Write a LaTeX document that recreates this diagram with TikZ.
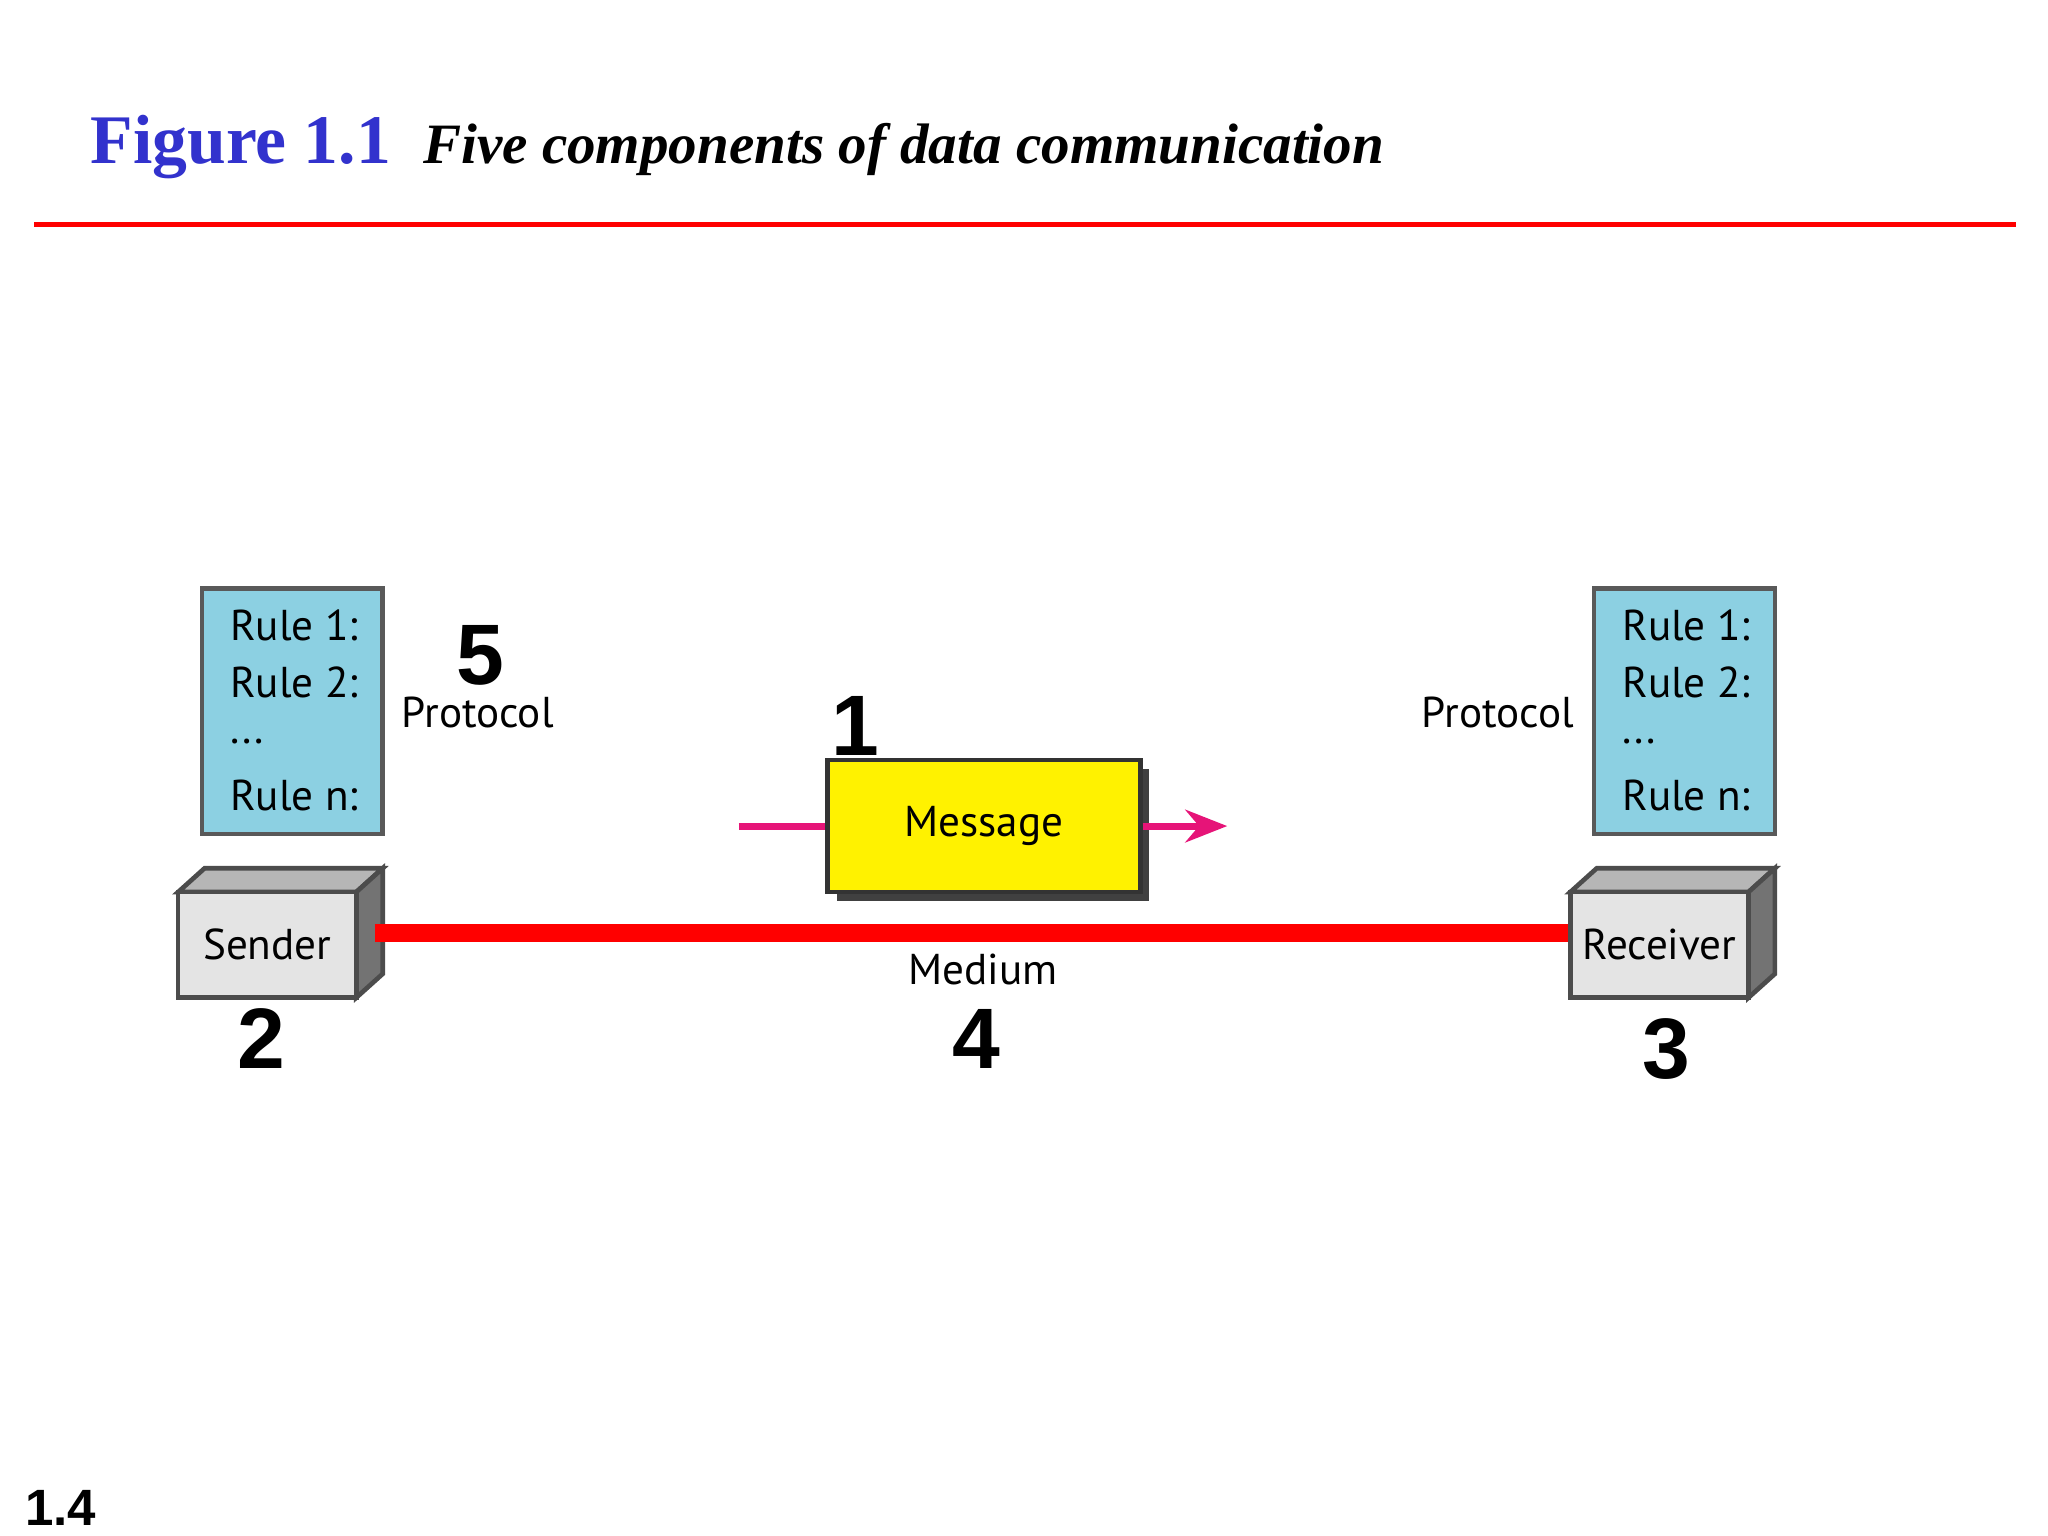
\documentclass[tikz,border=0pt]{standalone}
\usepackage{fontspec}
\setmainfont{Liberation Serif}
\newfontfamily\labelfont{PT Sans}
\newfontfamily\numfont{Liberation Sans}
\usetikzlibrary{arrows.meta}
\definecolor{titleblue}{RGB}{50,50,205}
\definecolor{rulebox}{RGB}{140,208,226}
\definecolor{devgray}{RGB}{228,228,228}
\definecolor{msgpink}{RGB}{230,20,120}
\tikzset{
  rules/.style={draw=gray!70!black, fill=rulebox, line width=1pt},
  lbl/.style={font=\labelfont\fontsize{9.3}{11}\selectfont},
  num/.style={font=\numfont\bfseries\fontsize{18.5}{18.5}\selectfont},
  dev/.style={draw=black!70, fill=devgray, line width=1pt}
}
\begin{document}
\begin{tikzpicture}[x=0.01cm, y=-0.01cm]
    \useasboundingbox[fill=white] (0,0) rectangle (1552,1164);

    % title
    \node[anchor=base west, inner sep=0pt, text=titleblue, font=\bfseries\fontsize{15}{15}\selectfont] (fig) at (68,124) {Figure 1.1};
    \node[anchor=base west, inner sep=0pt, font=\bfseries\itshape\fontsize{12.3}{12.3}\selectfont] (cap) at (320,124) {Five components of data communication};
    \draw[red, line width=1.2pt] (26,170) -- (1528,170);

    % protocol boxes
    \draw[rules] (153,446) rectangle (290,632);
    \draw[rules] (1208,446) rectangle (1345,632);
    \foreach \x in {174,1229} {
      \node[lbl, anchor=west, inner sep=0pt] at (\x,474) {Rule 1:};
      \node[lbl, anchor=west, inner sep=0pt] at (\x,517) {Rule 2:};
      \node[lbl, anchor=west, inner sep=0pt] at (\x,562) {...};
      \node[lbl, anchor=west, inner sep=0pt] at (\x,603) {Rule n:};
    }
    \node[lbl] (protl) at (362,540) {Protocol};
    \node[lbl] (protr) at (1135,540) {Protocol};

    % message
    \fill[black!75] (634,583) rectangle (871,683);
    \node[draw=black!80, fill=yellow, line width=1pt, minimum width=2.37cm, minimum height=1cm, inner sep=0pt, lbl] (msg) at (745.5,626) {Message};
    \coordinate (in) at (560,626);
    \coordinate (out) at (930,626);
    \draw[msgpink, line width=1.5pt] (in) -- (msg.west);
    \draw[msgpink, line width=1.5pt, -{Stealth[length=9pt,width=7pt]}] (msg.east) -- (out);

    % devices
    \foreach \x/\nm in {135/send, 1190/recv} {
      \draw[dev, fill=devgray!80!black] (\x,676) -- (\x+20,658) -- (\x+155,658) -- (\x+135,676) -- cycle;
      \draw[dev, fill=black!55] (\x+135,676) -- (\x+155,658) -- (\x+155,738) -- (\x+135,756) -- cycle;
      \node[dev, minimum width=1.35cm, minimum height=0.8cm, inner sep=0pt, lbl] (\nm) at (\x+67.5,716) {};
    }
    \node[lbl] at (send) {Sender};
    \node[lbl] at (recv) {Receiver};
    \draw[red, line width=4pt] ([xshift=0.12cm]send.east |- 0,707) -- (recv.west |- 0,707);
    \node[lbl] (med) at (745,735) {Medium};

    % numbers
    \node[num] at (648,550) {1};
    \node[num] at (198,787) {2};
    \node[num] at (1263,795) {3};
    \node[num] at (740,787) {4};
    \node[num] at (364,497) {5};
    \node[font=\numfont\bfseries\fontsize{11}{11}\selectfont] at (46,1143) {1.4};
\end{tikzpicture}
\end{document}
